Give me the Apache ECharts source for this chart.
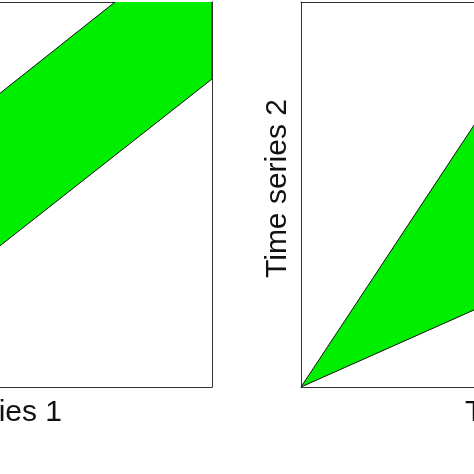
<!DOCTYPE html>
<html>
<head>
<meta charset="utf-8">
<script src="https://cdn.jsdelivr.net/npm/echarts@6/dist/echarts.min.js"></script>
<style>html,body{margin:0;padding:0;background:#fff}#chart{width:474px;height:474px}</style>
</head>
<body>
<div id="chart"></div>
<script>
// band polygon, left panel (x, y in unit axes)
const bandPoints = [[0, -0.12], [1, 0.8], [1, 1.2], [0, 0.272]];
// cone polygon, right panel
const conePoints = [[0, 0], [1, 1.7], [1, 0.5]];
const axisNames = ['Time series 1', 'Time series 2'];
// visible part of each unit axis (the picture is cropped)
const leftXRange = [0.529, 1];
const rightXRange = [0, 0.384];

const myChart = echarts.init(document.getElementById('chart'));

function polySeries(idx, pts) {
    return {
        type: 'custom',
        xAxisIndex: idx * 2,
        yAxisIndex: idx,
        clip: true,
        silent: true,
        data: [0],
        renderItem: function (params, api) {
            return {
                type: 'polygon',
                shape: { points: pts.map(p => api.coord(p)) },
                style: { fill: '#00ee00', stroke: '#111', lineWidth: 1 }
            };
        }
    };
}

const plain = {
    axisLabel: { show: false }, axisTick: { show: false }, splitLine: { show: false },
    axisLine: { show: true, lineStyle: { color: '#333' } }
};
function xAx(gi, range, pos) {
    return Object.assign({ gridIndex: gi, type: 'value', min: range[0], max: range[1], position: pos }, plain);
}
function yAx(gi, pos) {
    return Object.assign({ gridIndex: gi, type: 'value', min: 0, max: 1, position: pos }, plain);
}

const txt = { fontFamily: 'Liberation Sans', fontSize: 30, fill: '#111' };

myChart.setOption({
    animation: false,
    grid: [
        { left: 0, top: 2, width: 212, height: 385 },
        { left: 301, top: 2, width: 180, height: 385 }
    ],
    xAxis: [
        xAx(0, leftXRange, 'bottom'), xAx(0, leftXRange, 'top'),
        xAx(1, [0, 0.4], 'bottom'), xAx(1, [0, 0.4], 'top')
    ],
    yAxis: [yAx(0, 'right'), yAx(1, 'left')],
    series: [polySeries(0, bandPoints), polySeries(1, conePoints)],
    graphic: [
        { type: 'text', right: 412, top: 398, style: Object.assign({ text: axisNames[0] }, txt) },
        { type: 'text', left: 465, top: 398, style: Object.assign({ text: axisNames[0] }, txt) },
        { type: 'text', x: 263, y: 278, rotation: Math.PI / 2, style: Object.assign({ text: axisNames[1] }, txt) }
    ]
});
</script>
</body>
</html>
